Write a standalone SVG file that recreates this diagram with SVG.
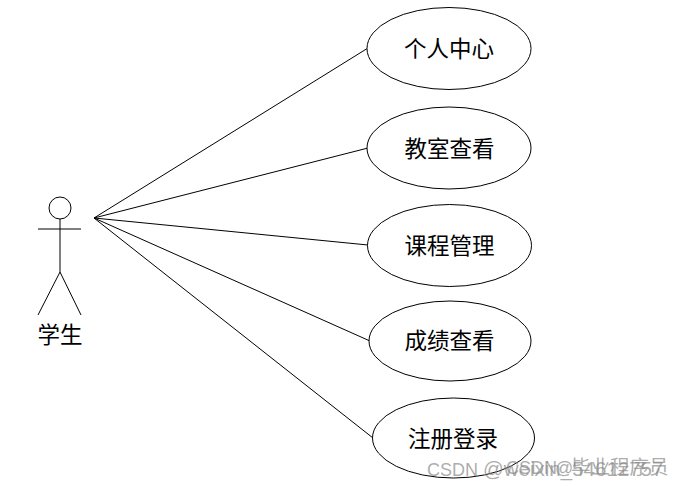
<svg xmlns="http://www.w3.org/2000/svg" width="682" height="486" viewBox="0 0 682 486">
<style>
.l{stroke:#000;stroke-width:1;fill:none}
.e{stroke:#000;stroke-width:1;fill:#fff}
.t{font-family:"Noto Sans CJK SC",sans-serif;font-size:22.5px;fill:#000;text-anchor:middle}
.w{font-family:"Liberation Sans","Noto Sans CJK SC",sans-serif;fill:#888;fill-opacity:.7}
</style>
<rect width="682" height="486" fill="#fff"/>
<g id="connectors">
<line class="l" x1="94" y1="218" x2="368" y2="48"/>
<line class="l" x1="94" y1="218" x2="368" y2="148"/>
<line class="l" x1="94" y1="218" x2="368" y2="245"/>
<line class="l" x1="94" y1="218" x2="370" y2="341"/>
<line class="l" x1="94" y1="218" x2="373" y2="438"/>
</g>
<g id="actor">
<circle class="l" cx="60" cy="208" r="11"/>
<path class="l" d="M60 219V272M38 229H81M60 272L38 315M60 272L81 315"/>
<text class="t" x="60" y="343">学生</text>
</g>
<g id="n1"><ellipse class="e" cx="449" cy="48.5" rx="82" ry="41"/><text class="t" x="449" y="57">个人中心</text></g>
<g id="n2"><ellipse class="e" cx="449" cy="148" rx="82" ry="41"/><text class="t" x="449.500" y="156.500">教室查看</text></g>
<g id="n3"><ellipse class="e" cx="449.500" cy="245.500" rx="82" ry="41"/><text class="t" x="449.500" y="253.500">课程管理</text></g>
<g id="n4"><ellipse class="e" cx="450" cy="341" rx="81" ry="40"/><text class="t" x="449.500" y="349">成绩查看</text></g>
<g id="n5"><ellipse class="e" cx="453.500" cy="438" rx="81" ry="40"/><text class="t" x="453" y="446.500">注册登录</text></g>
<g id="watermark">
<text class="w" font-size="18" x="427" y="476">CSDN<tspan x="483" font-size="20.500">@weixin_54612757</tspan></text>
<text class="w" font-size="18" x="506" y="474">CSDN<tspan x="555" font-size="18">@</tspan><tspan x="571" font-size="19.500">毕业程序员</tspan></text>
</g>
</svg>
